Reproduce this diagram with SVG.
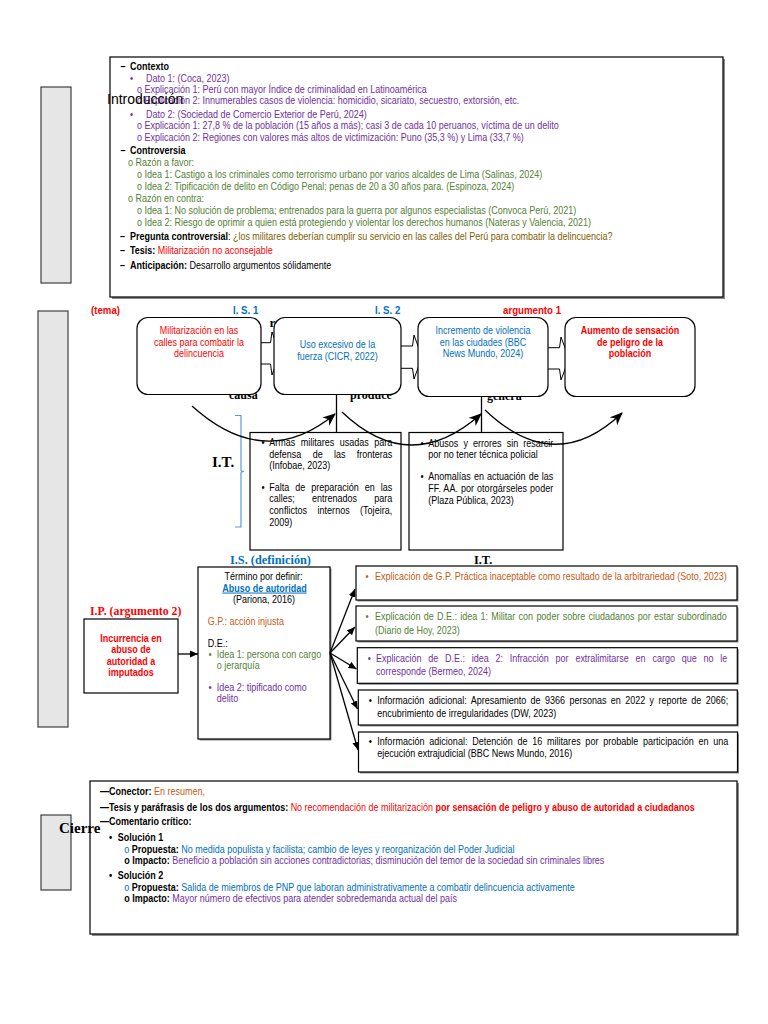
<svg xmlns="http://www.w3.org/2000/svg" width="768" height="1024" viewBox="0 0 768 1024">
<style>
.t{font-family:"Liberation Sans",Arial,sans-serif;font-size:10px;fill:#000}
.b{font-weight:bold}
.s{font-family:"Liberation Serif","Times New Roman",serif;font-weight:bold}
.pu{fill:#7030a0}.gr{fill:#538135}.rd{fill:#ff0000}.bl{fill:#0070c0}.or{fill:#c55a11}.go{fill:#806000}.k{fill:#000}
.gray{fill:#e7e6e6;stroke:#404040;stroke-width:1.2}
.box{fill:#fff;stroke:#000;stroke-width:1.2}
.rbox{fill:#fff;stroke:#000;stroke-width:1.2}
.shadow{fill:#8c8c8c}
.ln{fill:none;stroke:#000;stroke-width:1.3}
.blk{fill:#fff;stroke:#000;stroke-width:1}
</style>
<defs>
<marker id="ah" viewBox="0 0 8 7" refX="8" refY="3.5" markerWidth="8" markerHeight="7" markerUnits="userSpaceOnUse" orient="auto"><path d="M0,0 L8,3.5 L0,7 z" fill="#000"/></marker>
<marker id="ah2" viewBox="0 0 12 10" refX="11" refY="5" markerWidth="13" markerHeight="11" markerUnits="userSpaceOnUse" orient="auto"><path d="M0,0 L12,5 L0,10 L3.5,5 z" fill="#000"/></marker>
</defs>
<rect width="768" height="1024" fill="#fff"/>

<g id="bars">
<rect class="gray" x="41" y="87" width="30" height="196"/>
<rect class="gray" x="38" y="311" width="30" height="416"/>
<rect class="gray" x="41" y="815" width="30" height="75"/>
</g>

<g id="intro">
<rect class="shadow" x="112" y="59" width="613" height="240"/>
<rect class="box" x="110" y="57" width="613" height="240"/>
<text class="t b" transform="translate(120.5,70) scale(.9,1)">–</text>
<text class="t b" transform="translate(130,70) scale(.9,1)">Contexto</text>
<text class="t pu" transform="translate(130,82) scale(.9,1)">•</text>
<text class="t pu" transform="translate(146,82) scale(.9,1)">Dato 1: (Coca, 2023)</text>
<text class="t pu" transform="translate(137,92.5) scale(.9,1)">o Explicación 1: Perú con mayor Índice de criminalidad en Latinoamérica</text>
<text class="t pu" transform="translate(137,104) scale(.9,1)">o Explicación 2: Innumerables casos de violencia: homicidio, sicariato, secuestro, extorsión, etc.</text>
<text class="t pu" transform="translate(130,118) scale(.9,1)">•</text>
<text class="t pu" transform="translate(146,118) scale(.9,1)">Dato 2: (Sociedad de Comercio Exterior de Perú, 2024)</text>
<text class="t pu" transform="translate(137,129) scale(.9,1)">o Explicación 1: 27,8 % de la población (15 años a más); casi 3 de cada 10 peruanos, víctima de un delito</text>
<text class="t pu" transform="translate(137,140.5) scale(.9,1)">o Explicación 2: Regiones con valores más altos de victimización: Puno (35,3 %) y Lima (33,7 %)</text>
<text class="t b" transform="translate(120.5,154) scale(.9,1)">–</text>
<text class="t b" transform="translate(130,154) scale(.9,1)">Controversia</text>
<text class="t gr" transform="translate(128,166) scale(.9,1)">o Razón a favor:</text>
<text class="t gr" transform="translate(137,178) scale(.9,1)">o Idea 1: Castigo a los criminales como terrorismo urbano por varios alcaldes de Lima (Salinas, 2024)</text>
<text class="t gr" transform="translate(137,190) scale(.9,1)">o Idea 2: Tipificación de delito en Código Penal; penas de 20 a 30 años para. (Espinoza, 2024)</text>
<text class="t gr" transform="translate(128,202) scale(.9,1)">o Razón en contra:</text>
<text class="t gr" transform="translate(137,213.5) scale(.9,1)">o Idea 1: No solución de problema; entrenados para la guerra por algunos especialistas (Convoca Perú, 2021)</text>
<text class="t gr" transform="translate(137,225.5) scale(.9,1)">o Idea 2: Riesgo de oprimir a quien está protegiendo y violentar los derechos humanos (Nateras y Valencia, 2021)</text>
<text class="t b" transform="translate(120,240) scale(.9,1)">–</text>
<text class="t" transform="translate(130,240) scale(.9,1)"><tspan class="b">Pregunta controversial</tspan>: <tspan class="go">¿los militares deberían cumplir su servicio en las calles del Perú para combatir la delincuencia?</tspan></text>
<text class="t b" transform="translate(120,254) scale(.9,1)">–</text>
<text class="t" transform="translate(130,254) scale(.9,1)"><tspan class="b">Tesis: </tspan><tspan class="rd">Militarización no aconsejable</tspan></text>
<text class="t b" transform="translate(120,268.5) scale(.9,1)">–</text>
<text class="t" transform="translate(130,268.5) scale(.9,1)"><tspan class="b">Anticipación: </tspan>Desarrollo argumentos sólidamente</text>
<text x="107" y="104" font-family="Liberation Sans, Arial, sans-serif" font-size="14">Introducción</text>
</g>

<g id="labels">
<text class="t b rd" transform="translate(91,314) scale(.88,1)" style="font-size:11px">(tema)</text>
<text class="t b bl" transform="translate(233,314) scale(.88,1)" style="font-size:11px">I. S. 1</text>
<text class="t b bl" transform="translate(375,314) scale(.88,1)" style="font-size:11px">I. S. 2</text>
<text class="t b rd" transform="translate(503,314) scale(.88,1)" style="font-size:11px">argumento 1</text>
</g>

<g id="hidden-words">
<text class="s" x="269.5" y="327" font-size="13">r</text>
<text class="s" x="229" y="398.5" font-size="12">causa</text>
<text class="s" x="350" y="398.5" font-size="12">produce</text>
<text class="s" x="487" y="399.5" font-size="12">genera</text>
</g>

<g id="chain-arrows">
<path class="blk" d="M260,342.7 H270.5 L272,332 L280,353.5 L272,375 L270.5,364 H260"/>
<path class="blk" d="M400,346 H412.5 L414,335 L422,357 L414,379 L412.5,368.3 H400"/>
<path class="blk" d="M547,347.7 H559.5 L561,337 L569,358.5 L561,380 L559.5,369 H547"/>
</g>

<g id="n-tema">
<rect class="rbox" x="137" y="317.5" width="124" height="77" rx="11"/>
<text class="t rd" text-anchor="middle" transform="translate(199,334) scale(.9,1)">Militarización en las</text>
<text class="t rd" text-anchor="middle" transform="translate(199,345.5) scale(.9,1)">calles para combatir la</text>
<text class="t rd" text-anchor="middle" transform="translate(199,356.5) scale(.9,1)">delincuencia</text>
</g>
<g id="n-is1">
<rect class="rbox" x="274" y="317.5" width="127" height="77" rx="11"/>
<text class="t bl" text-anchor="middle" transform="translate(337.5,348) scale(.9,1)">Uso excesivo de la</text>
<text class="t bl" text-anchor="middle" transform="translate(337.5,359.5) scale(.9,1)">fuerza (CICR, 2022)</text>
</g>
<g id="n-is2">
<rect class="rbox" x="418" y="317.5" width="130" height="79" rx="11"/>
<text class="t bl" text-anchor="middle" transform="translate(483,334) scale(.9,1)">Incremento de violencia</text>
<text class="t bl" text-anchor="middle" transform="translate(483,345.5) scale(.9,1)">en las ciudades (BBC</text>
<text class="t bl" text-anchor="middle" transform="translate(483,356.5) scale(.9,1)">News Mundo, 2024)</text>
</g>
<g id="n-arg1">
<rect class="rbox" x="565" y="317.5" width="130" height="79" rx="11"/>
<text class="t b rd" text-anchor="middle" transform="translate(630,334) scale(.9,1)">Aumento de sensación</text>
<text class="t b rd" text-anchor="middle" transform="translate(630,345.5) scale(.9,1)">de peligro de la</text>
<text class="t b rd" text-anchor="middle" transform="translate(630,356.5) scale(.9,1)">población</text>
</g>

<g id="it-label">
<text class="s" x="212" y="467" font-size="15">I.T.</text>
<path d="M235,415.5 H241 V470 Q241,471.5 244,471.5 Q241,471.5 241,473 V527 H235" fill="none" stroke="#5b9bd5" stroke-width="1.2"/>
</g>

<g id="n-it1">
<rect class="box" x="250" y="432.5" width="151" height="117.5"/>
<text class="t" transform="translate(261.5,446) scale(.9,1)">•</text>
<text class="t" transform="translate(269.3,446) scale(.9,1)" word-spacing="3.3" textLength="136.7" lengthAdjust="spacing">Armas militares usadas para</text>
<text class="t" transform="translate(269.3,457.5) scale(.9,1)" word-spacing="9.8" textLength="136.7" lengthAdjust="spacing">defensa de las fronteras</text>
<text class="t" transform="translate(269.3,469) scale(.9,1)">(Infobae, 2023)</text>
<text class="t" transform="translate(261.5,490.5) scale(.9,1)">•</text>
<text class="t" transform="translate(269.3,490.5) scale(.9,1)" word-spacing="3.9" textLength="136.7" lengthAdjust="spacing">Falta de preparación en las</text>
<text class="t" transform="translate(269.3,502) scale(.9,1)" word-spacing="16.4" textLength="136.7" lengthAdjust="spacing">calles; entrenados para</text>
<text class="t" transform="translate(269.3,513.5) scale(.9,1)" word-spacing="8.6" textLength="136.7" lengthAdjust="spacing">conflictos internos (Tojeira,</text>
<text class="t" transform="translate(269.3,525.5) scale(.9,1)">2009)</text>
</g>
<g id="n-it2">
<rect class="box" x="409" y="432.5" width="154" height="117.5"/>
<text class="t" transform="translate(420.5,446.5) scale(.9,1)">•</text>
<text class="t" transform="translate(428.3,446.5) scale(.9,1)" word-spacing="2.9" textLength="138.9" lengthAdjust="spacing">Abusos y errores sin resarcir</text>
<text class="t" transform="translate(428.3,458) scale(.9,1)">por no tener técnica policial</text>
<text class="t" transform="translate(420.5,480) scale(.9,1)">•</text>
<text class="t" transform="translate(428.3,480) scale(.9,1)" word-spacing="0.7" textLength="138.9" lengthAdjust="spacing">Anomalías en actuación de las</text>
<text class="t" transform="translate(428.3,492) scale(.9,1)" word-spacing="0.4" textLength="138.9" lengthAdjust="spacing">FF. AA. por otorgárseles poder</text>
<text class="t" transform="translate(428.3,504) scale(.9,1)">(Plaza Pública, 2023)</text>
</g>

<g id="connectors-upper">
<line class="ln" x1="336.5" y1="394.5" x2="336.5" y2="432.5" stroke-width="1.2"/>
<line class="ln" x1="481.5" y1="396.5" x2="481.5" y2="432.5" stroke-width="1.2"/>
<path class="ln" stroke-width="1.1" d="M192,406 Q265,472 335,414" marker-end="url(#ah2)"/>
<path class="ln" stroke-width="1.1" d="M342,412 Q410,477 481,414" marker-end="url(#ah2)"/>
<path class="ln" stroke-width="1.1" d="M485,410 Q555,477 622,413" marker-end="url(#ah2)"/>
</g>

<g id="labels2">
<text class="s bl" x="230" y="564" font-size="12.3">I.S. (definición)</text>
<text class="s" x="474" y="564" font-size="12.3">I.T.</text>
<text class="s rd" x="90" y="614.5" font-size="11.8">I.P. (argumento 2)</text>
</g>

<g id="n-ip">
<rect class="box" x="84" y="619" width="94" height="74" stroke-width="1.5"/>
<text class="t b rd" text-anchor="middle" transform="translate(131,642) scale(.9,1)">Incurrencia en</text>
<text class="t b rd" text-anchor="middle" transform="translate(131,653) scale(.9,1)">abuso de</text>
<text class="t b rd" text-anchor="middle" transform="translate(131,664.5) scale(.9,1)">autoridad a</text>
<text class="t b rd" text-anchor="middle" transform="translate(131,676) scale(.9,1)">imputados</text>
</g>

<g id="n-isdef">
<rect class="shadow" x="199.5" y="568.5" width="132" height="172"/>
<rect class="box" x="198" y="567" width="132" height="172"/>
<text class="t" text-anchor="middle" transform="translate(263.5,580) scale(.9,1)">Término por definir:</text>
<text class="t b bl" text-anchor="middle" text-decoration="underline" transform="translate(264.5,591.5) scale(.9,1)">Abuso de autoridad</text>
<text class="t" text-anchor="middle" transform="translate(264,602.5) scale(.9,1)">(Pariona, 2016)</text>
<text class="t or" transform="translate(207.7,624.5) scale(.9,1)">G.P.: acción injusta</text>
<text class="t" transform="translate(207.7,647) scale(.9,1)">D.E.:</text>
<text class="t gr" transform="translate(208.5,658) scale(.9,1)">•</text>
<text class="t gr" transform="translate(216.7,658) scale(.9,1)">Idea 1: persona con cargo</text>
<text class="t gr" transform="translate(216.7,669) scale(.9,1)">o jerarquía</text>
<text class="t pu" transform="translate(208.5,691) scale(.9,1)">•</text>
<text class="t pu" transform="translate(216.7,691) scale(.9,1)">Idea 2: tipificado como</text>
<text class="t pu" transform="translate(216.7,702) scale(.9,1)">delito</text>
</g>

<g id="n-a">
<rect class="shadow" x="357.5" y="567.5" width="381" height="34"/>
<rect class="box" x="356" y="566" width="381" height="34"/>
<text class="t or" transform="translate(365.5,579.5) scale(.9,1)">•</text>
<text class="t or" transform="translate(375,579.5) scale(.9,1)" textLength="390.8" lengthAdjust="spacingAndGlyphs">Explicación de G.P. Práctica inaceptable como resultado de la arbitrariedad (Soto, 2023)</text>
</g>
<g id="n-b">
<rect class="shadow" x="357.5" y="607.5" width="381" height="35"/>
<rect class="box" x="356" y="606" width="381" height="35"/>
<text class="t gr" transform="translate(365.5,619.5) scale(.9,1)">•</text>
<text class="t gr" transform="translate(375,619.5) scale(.9,1)" word-spacing="0.9" textLength="390.8" lengthAdjust="spacing">Explicación de D.E.: idea 1: Militar con poder sobre ciudadanos por estar subordinado</text>
<text class="t gr" transform="translate(375,633.5) scale(.9,1)">(Diario de Hoy, 2023)</text>
</g>
<g id="n-c">
<rect class="shadow" x="358.8" y="649.2" width="380" height="35.6"/>
<rect class="box" x="357.3" y="647.7" width="380" height="35.6"/>
<text class="t pu" transform="translate(367.8,662) scale(.9,1)">•</text>
<text class="t pu" transform="translate(376,662) scale(.9,1)" word-spacing="4.75" textLength="390.3" lengthAdjust="spacing">Explicación de D.E.: idea 2: Infracción por extralimitarse en cargo que no le</text>
<text class="t pu" transform="translate(376,674.5) scale(.9,1)">corresponde (Bermeo, 2024)</text>
</g>
<g id="n-d">
<rect class="shadow" x="359.8" y="691.5" width="379" height="35"/>
<rect class="box" x="358.3" y="690" width="379" height="35"/>
<text class="t" transform="translate(368.8,703.5) scale(.9,1)">•</text>
<text class="t" transform="translate(377.3,703.5) scale(.9,1)" word-spacing="2.07" textLength="390" lengthAdjust="spacing">Información adicional: Apresamiento de 9366 personas en 2022 y reporte de 2066;</text>
<text class="t" transform="translate(377.3,717) scale(.9,1)">encubrimiento de irregularidades (DW, 2023)</text>
</g>
<g id="n-e">
<rect class="shadow" x="360" y="733.5" width="379" height="40"/>
<rect class="box" x="358.5" y="732" width="379" height="40"/>
<text class="t" transform="translate(368.8,745) scale(.9,1)">•</text>
<text class="t" transform="translate(377.3,745) scale(.9,1)" word-spacing="2.4" textLength="390" lengthAdjust="spacing">Información adicional: Detención de 16 militares por probable participación en una</text>
<text class="t" transform="translate(377.3,757) scale(.9,1)">ejecución extrajudicial (BBC News Mundo, 2016)</text>
</g>

<g id="connectors-lower">
<line class="ln" x1="178" y1="654" x2="198" y2="654" marker-end="url(#ah)"/>
<line class="ln" x1="330" y1="653" x2="355" y2="589" marker-end="url(#ah)"/>
<line class="ln" x1="330" y1="653" x2="355" y2="627" marker-end="url(#ah)"/>
<line class="ln" x1="330" y1="653" x2="356.5" y2="669" marker-end="url(#ah)"/>
<line class="ln" x1="330" y1="653" x2="357.5" y2="709" marker-end="url(#ah)"/>
<line class="ln" x1="330" y1="653" x2="358" y2="750" marker-end="url(#ah)"/>
</g>

<g id="cierre">
<rect class="shadow" x="92" y="783" width="647" height="153"/>
<rect class="box" x="90" y="781" width="647" height="153"/>
<text class="t" transform="translate(100,795) scale(.9,1)"><tspan class="b">—Conector:</tspan><tspan class="or"> En resumen,</tspan></text>
<text class="t" transform="translate(100,811) scale(.9,1)"><tspan class="b">—Tesis y paráfrasis de los dos argumentos: </tspan><tspan class="rd">No recomendación de militarización </tspan><tspan class="rd b">por sensación de peligro y abuso de autoridad a ciudadanos</tspan></text>
<text class="t b" transform="translate(100,825) scale(.9,1)">—Comentario crítico:</text>
<text class="t b" transform="translate(109,841) scale(.9,1)">•</text>
<text class="t b" transform="translate(117.7,841) scale(.9,1)">Solución 1</text>
<text class="t" transform="translate(124.3,853) scale(.9,1)"><tspan class="bl">o </tspan><tspan class="b">Propuesta: </tspan><tspan class="bl">No medida populista y facilista; cambio de leyes y reorganización del Poder Judicial</tspan></text>
<text class="t" transform="translate(124.3,864) scale(.9,1)"><tspan class="b">o Impacto: </tspan><tspan class="pu">Beneficio a población sin acciones contradictorias; disminución del temor de la sociedad sin criminales libres</tspan></text>
<text class="t b" transform="translate(109,879) scale(.9,1)">•</text>
<text class="t b" transform="translate(117.7,879) scale(.9,1)">Solución 2</text>
<text class="t" transform="translate(124.3,891) scale(.9,1)"><tspan class="bl">o </tspan><tspan class="b">Propuesta: </tspan><tspan class="bl">Salida de miembros de PNP que laboran administrativamente a combatir delincuencia activamente</tspan></text>
<text class="t" transform="translate(124.3,902) scale(.9,1)"><tspan class="b">o Impacto: </tspan><tspan class="pu">Mayor número de efectivos para atender sobredemanda actual del país</tspan></text>
<text class="s" x="59" y="832.5" font-size="15">Cierre</text>
</g>
</svg>
